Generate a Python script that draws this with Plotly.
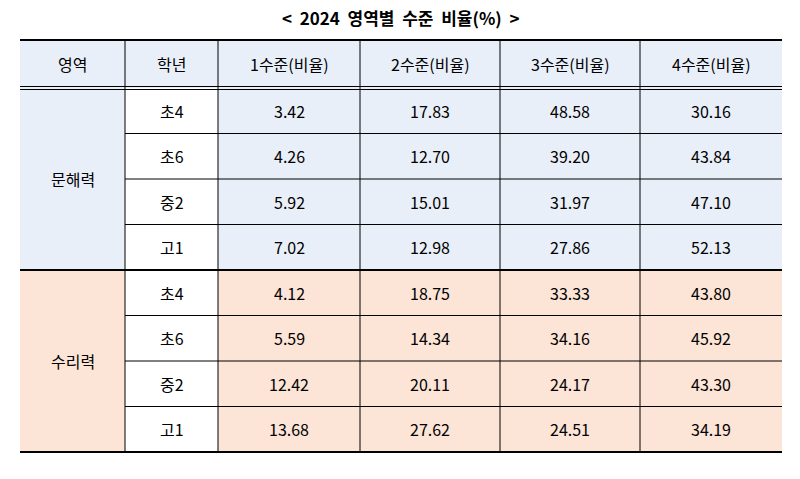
import plotly.graph_objects as go

title = "<  2024  영역별  수준  비율(%)  >"
headers = ["영역", "학년", "1수준(비율)", "2수준(비율)", "3수준(비율)", "4수준(비율)"]
domains = ["문해력", "수리력"]
grades = ["초4", "초6", "중2", "고1"]
lit_vals = [[3.42, 17.83, 48.58, 30.16], [4.26, 12.70, 39.20, 43.84],
            [5.92, 15.01, 31.97, 47.10], [7.02, 12.98, 27.86, 52.13]]
num_vals = [[4.12, 18.75, 33.33, 43.80], [5.59, 14.34, 34.16, 45.92],
            [12.42, 20.11, 24.17, 43.30], [13.68, 27.62, 24.51, 34.19]]

OFF = 8  # page body margin
col_edges = [e - OFF for e in [20, 125, 218, 360, 500, 640, 782]]
top, head_bot, row_h = 40 - OFF, 88 - OFF, 45.5
fills = ["#E9EFF8", "#FCE4D6"]
head_fill = "#E9EFF8"
FONT = "Noto Sans CJK KR"

fig = go.Figure()
fig.add_trace(go.Scatter(x=[0, 800], y=[0, 479], mode="markers", marker=dict(opacity=0), hoverinfo="skip"))
shapes, ann = [], []

def rect(x0, x1, y0, y1, color):
    shapes.append(dict(type="rect", x0=x0, x1=x1, y0=y0, y1=y1, fillcolor=color, line=dict(width=0), layer="below"))

def hline(x0, x1, y, w=1):
    shapes.append(dict(type="line", x0=x0, x1=x1, y0=y, y1=y, line=dict(color="black", width=w)))

def vline(x, y0, y1, w=1):
    shapes.append(dict(type="line", x0=x, x1=x, y0=y0, y1=y1, line=dict(color="black", width=w)))

def text(x, y, s, size=16, bold=False):
    ann.append(dict(x=x, y=y, text=f"<b>{s}</b>" if bold else s, showarrow=False,
                    font=dict(family=FONT, size=size, color="black"), xanchor="center", yanchor="middle"))

cx = [(col_edges[i] + col_edges[i + 1]) / 2 for i in range(len(col_edges) - 1)]
rect(col_edges[0], col_edges[-1], top, head_bot, head_fill)
for i, h in enumerate(headers):
    text(cx[i], (top + head_bot) / 2, h)

y = head_bot
sections = [lit_vals, num_vals]
for s, (dname, vals) in enumerate(zip(domains, sections)):
    y0 = y
    y1 = y0 + row_h * len(grades)
    rect(col_edges[0], col_edges[-1], y0, y1, fills[s])
    rect(col_edges[1], col_edges[2], y0, y1, "white")
    text(cx[0], (y0 + y1) / 2, dname)
    for r, g in enumerate(grades):
        ry = y0 + row_h * r + row_h / 2
        text(cx[1], ry, g)
        for c, v in enumerate(vals[r]):
            text(cx[2 + c], ry, f"{v:.2f}")
        if r > 0:
            hline(col_edges[1], col_edges[-1], y0 + row_h * r)
    y = y1
    hline(col_edges[0], col_edges[-1], y1, 2)

hline(col_edges[0], col_edges[-1], top, 2)
hline(col_edges[0], col_edges[-1], head_bot - 1.5, 1)
hline(col_edges[0], col_edges[-1], head_bot + 1.5, 1)
for x in col_edges[1:-1]:
    vline(x, top, y)

ann.append(dict(x=400 - OFF, y=17 - OFF, text=f"<b>{title}</b>", showarrow=False,
                font=dict(family=FONT, size=17, color="black"), xanchor="center", yanchor="middle"))

fig.update_layout(width=800, height=479, margin=dict(l=0, r=0, t=0, b=0),
                  plot_bgcolor="white", paper_bgcolor="white", showlegend=False,
                  xaxis=dict(range=[0, 800], visible=False, fixedrange=True),
                  yaxis=dict(range=[479, 0], visible=False, fixedrange=True),
                  shapes=shapes, annotations=ann)
fig.write_html("out.html")
